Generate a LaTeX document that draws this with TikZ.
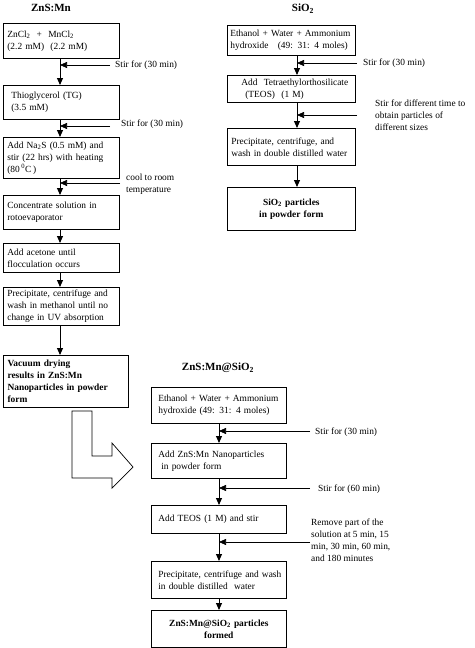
\documentclass[tikz,border=0pt]{standalone}
\usepackage{fontspec}
\setmainfont{Liberation Serif}
\usetikzlibrary{arrows.meta}
\newcommand{\boxfont}{\fontsize{9.4}{12}\selectfont}
\newcommand{\headfont}{\fontsize{11}{13}\selectfont\bfseries}

\begin{document}
\begin{tikzpicture}[x=1pt, y=-1pt, >={Triangle[length=7pt,width=6pt]},
  box/.style={draw, line width=0.7pt, anchor=north west, inner xsep=4pt, inner ysep=1pt, align=left, font=\boxfont},
  endbox/.style={box, align=center, font=\boxfont\bfseries},
  flow/.style={->, line width=0.9pt},
  side/.style={->, line width=0.7pt},
  note/.style={anchor=west, inner sep=0pt, align=left, font=\boxfont},
  head/.style={inner sep=0pt, font=\headfont}]

  \useasboundingbox (0,0) rectangle (474,648);

  % column lines of the vertical arrows
  \coordinate (lx) at (60,0);
  \coordinate (rx) at (297,0);
  \coordinate (bx) at (219,0);

  % Titles
  \node[head] (hZ) at (51,8) {ZnS:Mn};
  \node[head] (hS) at (303,9) {SiO\textsubscript{2}};
  \node[head] (hB) at (218,368) {ZnS:Mn@SiO\textsubscript{2}};

  % ZnS:Mn route
  \node[box, minimum width=116pt, text width=108pt, minimum height=35pt] (L1) at (3,23)
    {ZnCl\textsubscript{2} \ + \ MnCl\textsubscript{2}\\(2.2 mM)\ \ (2.2 mM)};
  \node[box, minimum width=116pt, text width=108pt, minimum height=34pt] (L2) at (3,85)
    {\hspace*{4pt}Thioglycerol (TG)\\\hspace*{4pt}(3.5 mM)};
  \node[box, minimum width=116pt, text width=108pt, minimum height=41pt] (L3) at (3,137)
    {Add Na\textsubscript{2}S (0.5 mM) and\\stir (22 hrs) with heating\\(80\,\textsuperscript{0}C\,)};
  \node[box, minimum width=116pt, text width=108pt, minimum height=34pt] (L4) at (3,195)
    {Concentrate solution in\\rotoevaporator};
  \node[box, minimum width=116pt, text width=108pt, minimum height=29pt] (L5) at (3,243)
    {Add acetone until\\flocculation occurs};
  \node[box, minimum width=116pt, text width=108pt, minimum height=38pt] (L6) at (3,287)
    {Precipitate, centrifuge and\\wash in methanol until no\\change in UV absorption};
  \node[box, line width=1.1pt, font=\boxfont\bfseries, minimum width=125pt, text width=117pt, minimum height=52pt] (L7) at (3,355)
    {Vacuum drying\\results in ZnS:Mn\\Nanoparticles in powder\\form};

  \draw[flow] (L1.south -| lx) -- (L2.north -| lx);
  \draw[flow] (L2.south -| lx) -- (L3.north -| lx);
  \draw[flow] (L3.south -| lx) -- (L4.north -| lx);
  \draw[flow] (L4.south -| lx) -- (L5.north -| lx);
  \draw[flow] (L5.south -| lx) -- (L6.north -| lx);
  \draw[flow] (L6.south -| lx) -- (L7.north -| lx);

  \coordinate (s1) at (110,65);
  \draw[side] (s1) -- (s1 -| lx);
  \node[note] (n1) at (115,65) {Stir for (30 min)};
  \coordinate (s2) at (110,126);
  \draw[side] (s2) -- (s2 -| lx);
  \node[note] (n2) at (121,124) {Stir for (30 min)};
  \coordinate (s3) at (120,183);
  \draw[side] (s3) -- (s3 -| lx);
  \node[note] (n3) at (126,184) {cool to room\\temperature};

  % SiO2 route
  \node[box, inner xsep=3pt, minimum width=128pt, text width=122pt, minimum height=30pt] (R1) at (227,25)
    {\mbox{Ethanol + Water + Ammonium}\\hydroxide\quad(49: 31: 4 moles)};
  \node[box, minimum width=128pt, text width=120pt, minimum height=27pt] (R2) at (227,75)
    {\hspace*{10pt}Add\ \ Tetraethylorthosilicate\\\hspace*{14pt}(TEOS)\ \ (1 M)};
  \node[box, minimum width=128pt, text width=120pt, minimum height=37pt] (R3) at (227,128)
    {Precipitate, centrifuge, and\\wash in double distilled water};
  \node[endbox, minimum width=128pt, text width=120pt, minimum height=43pt] (R4) at (227,187)
    {SiO\textsubscript{2} particles\\in powder form};

  \draw[flow] (R1.south -| rx) -- (R2.north -| rx);
  \draw[flow] (R2.south -| rx) -- (R3.north -| rx);
  \draw[flow] (R3.south -| rx) -- (R4.north -| rx);

  \coordinate (s4) at (357,63);
  \draw[side] (s4) -- (s4 -| rx);
  \node[note] (n4) at (363,63) {Stir for (30 min)};
  \coordinate (s5) at (357,115);
  \draw[side] (s5) -- (s5 -| rx);
  \node[note] (n5) at (375,115) {Stir for different time to\\obtain particles of\\different sizes};

  % ZnS:Mn@SiO2 route
  \node[box, minimum width=135pt, text width=127pt, minimum height=36pt] (B1) at (151,387)
    {\hspace*{3pt}Ethanol + Water + Ammonium\\\hspace*{3pt}hydroxide (49: 31: 4 moles)};
  \node[box, minimum width=135pt, text width=127pt, minimum height=35pt] (B2) at (151,443)
    {\hspace*{3pt}Add ZnS:Mn Nanoparticles\\\hspace*{6pt}in powder form};
  \node[box, minimum width=135pt, text width=127pt, minimum height=28pt] (B3) at (151,505)
    {\hspace*{3pt}Add TEOS (1 M) and stir};
  \node[box, minimum width=135pt, text width=127pt, minimum height=37pt] (B4) at (151,561)
    {\hspace*{3pt}Precipitate, centrifuge and wash\\\hspace*{3pt}in double distilled\ \ water};
  \node[endbox, minimum width=135pt, text width=127pt, minimum height=37pt] (B5) at (151,610)
    {ZnS:Mn@SiO\textsubscript{2} particles\\formed};

  \draw[flow] (B1.south -| bx) -- (B2.north -| bx);
  \draw[flow] (B2.south -| bx) -- (B3.north -| bx);
  \draw[flow] (B3.south -| bx) -- (B4.north -| bx);
  \draw[flow] (B4.south -| bx) -- (B5.north -| bx);

  \coordinate (s6) at (310,431);
  \draw[side] (s6) -- (s6 -| bx);
  \node[note] (n6) at (315,432) {Stir for (30 min)};
  \coordinate (s7) at (310,488);
  \draw[side] (s7) -- (s7 -| bx);
  \node[note] (n7) at (318,489) {Stir for (60 min)};
  \coordinate (s8) at (310,542);
  \draw[side] (s8) -- (s8 -| bx);
  \node[note] (n8) at (311,540) {Remove part of the\\solution at 5 min, 15\\min, 30 min, 60 min,\\and 180 minutes};

  % hollow arrow from the ZnS:Mn powder to the coating route
  \draw[line width=0.7pt, fill=white, line join=miter]
    (72,411) -- (72,478) -- (112,478) -- (112,488) -- (133,467)
    -- (112,443) -- (112,456) -- (92,456) -- (92,411) -- cycle;
\end{tikzpicture}
\end{document}
